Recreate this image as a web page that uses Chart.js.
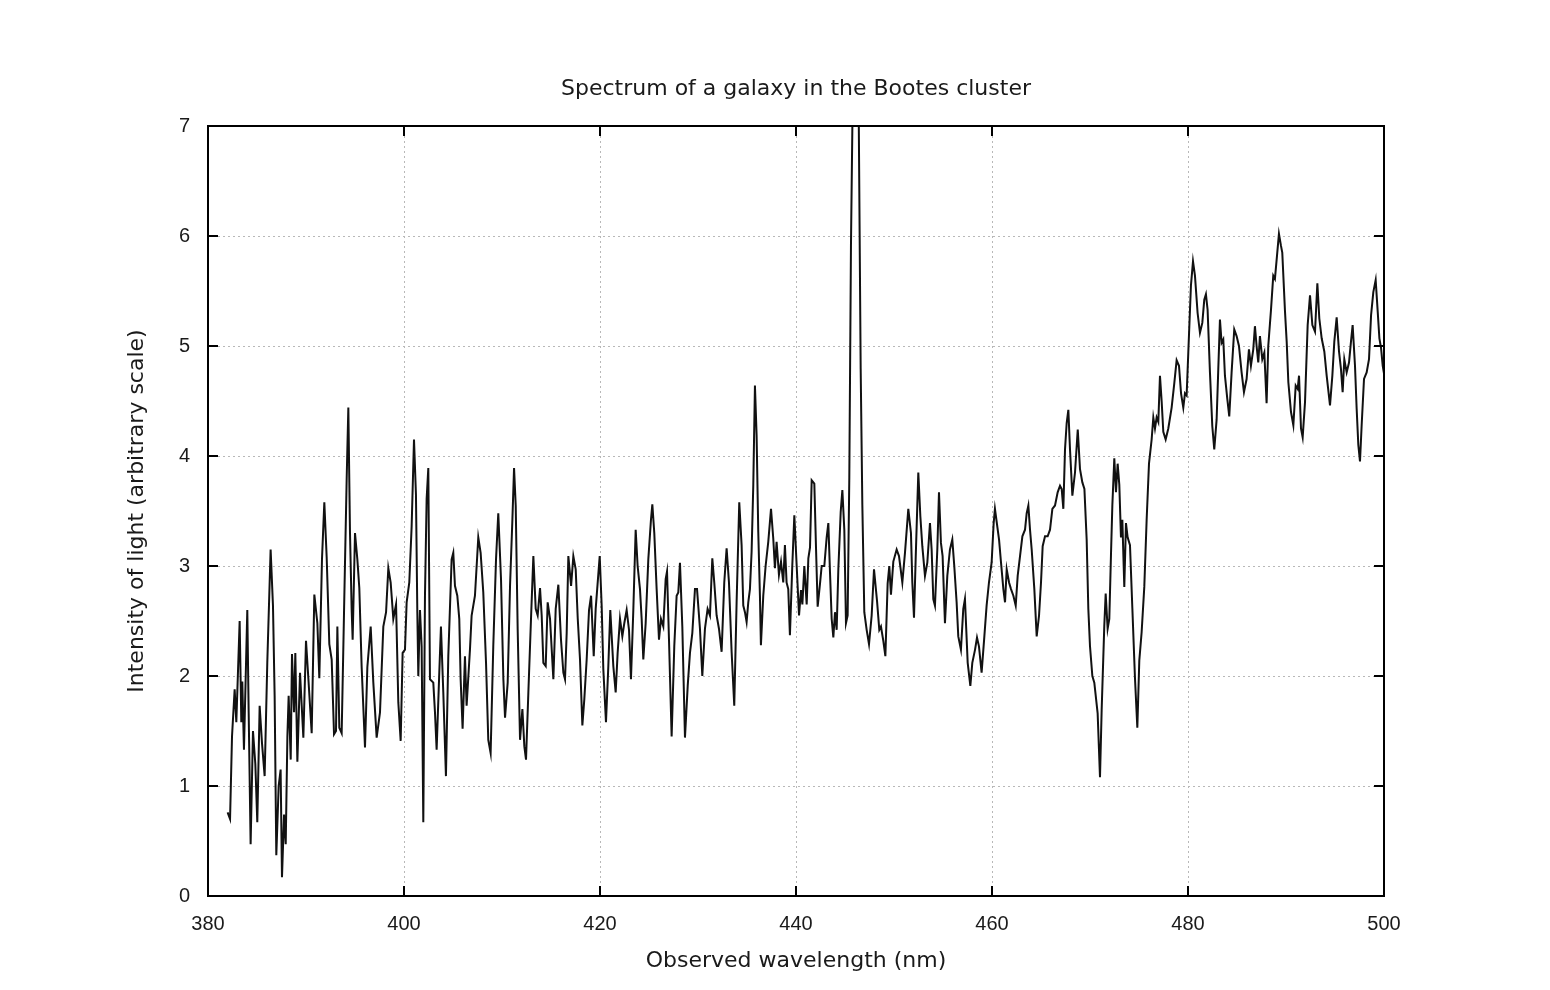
<!DOCTYPE html>
<html>
<head>
<meta charset="utf-8">
<title>Spectrum of a galaxy in the Bootes cluster</title>
<script src="https://cdn.jsdelivr.net/npm/chart.js@4.4.1/dist/chart.umd.min.js"></script>
<style>
  html, body { margin: 0; padding: 0; background: #fff; }
  canvas { display: block; }
</style>
</head>
<body>
<canvas id="spectrum" width="1550" height="990"></canvas>
<script>
// observed wavelength (nm)
const wavelengths = [
  382.0, 382.25, 382.45, 382.72, 382.89, 383.23, 383.4, 383.5, 383.67, 384.01, 384.15, 384.35, 384.59, 384.83, 385.03,
  385.27, 385.51, 385.78, 386.05, 386.39, 386.63, 386.8, 386.97, 387.21, 387.41, 387.55, 387.76, 387.93, 388.1, 388.23,
  388.44, 388.57, 388.78, 388.91, 389.12,
  389.39, 389.73, 390.0, 390.24, 390.58, 390.85, 391.16, 391.36, 391.63, 391.87, 392.11, 392.38, 392.62, 392.86, 393.06,
  393.2, 393.4, 393.64, 393.88, 394.15, 394.32, 394.49, 394.66, 394.76, 395.0, 395.24, 395.44, 395.68, 396.02, 396.26,
  396.6, 396.87, 397.21, 397.55, 397.89, 398.17, 398.4, 398.64, 398.91, 399.19, 399.42, 399.66,
  399.86, 400.1, 400.27, 400.54, 400.78, 401.02, 401.22, 401.36, 401.46, 401.63, 401.8, 401.97, 402.14, 402.31, 402.48,
  402.65, 402.99, 403.16, 403.33, 403.6, 403.77, 404.01, 404.28, 404.52, 404.86, 405.03, 405.2, 405.44, 405.64, 405.78,
  405.98, 406.22, 406.39, 406.73, 406.9, 407.24, 407.58, 407.82, 408.09, 408.37, 408.6, 408.84, 409.11, 409.39, 409.62,
  409.9, 410.14, 410.31, 410.58, 410.82, 411.06, 411.23, 411.4, 411.6, 411.84, 412.08, 412.28, 412.45, 412.69, 412.96,
  413.2, 413.44, 413.64, 413.88, 414.05, 414.22, 414.46, 414.66, 414.9, 415.24, 415.48, 415.75, 416.02, 416.26, 416.43,
  416.6, 416.77, 417.05, 417.28, 417.52, 417.73, 417.96, 418.2, 418.4, 418.64, 418.88, 419.09, 419.36, 419.56,
  419.97, 420.17, 420.34, 420.61, 420.85, 421.05, 421.36, 421.6, 421.8, 422.04, 422.28, 422.48, 422.72, 422.96, 423.16,
  423.4, 423.64, 423.84, 424.08, 424.25, 424.42, 424.66, 424.93, 425.2, 425.34, 425.54, 425.78, 426.02, 426.22, 426.46,
  426.7, 426.84, 427.04, 427.31, 427.58, 427.82, 427.99, 428.16, 428.4, 428.67, 428.95, 429.18, 429.42, 429.69, 429.9,
  430.2, 430.44, 430.71, 430.98, 431.22, 431.46, 431.66, 431.9, 432.14, 432.41, 432.68, 432.92, 433.16, 433.43, 433.7,
  433.94, 434.21, 434.45, 434.62, 434.79, 434.96, 435.13, 435.3, 435.47, 435.64, 435.81, 435.98, 436.15, 436.32, 436.42,
  436.66, 436.9, 437.17, 437.45, 437.68, 437.85, 438.02, 438.26, 438.47, 438.7, 438.87, 439.04, 439.21, 439.38, 439.62,
  439.83,
  440.07, 440.31, 440.51, 440.65, 440.85, 441.09, 441.26, 441.43, 441.6, 441.87, 442.04, 442.21, 442.45, 442.62, 442.89,
  443.13, 443.3, 443.47, 443.64, 443.81, 443.98, 444.15, 444.32, 444.56, 444.73, 444.93, 445.1, 445.27, 445.44, 445.61,
  446.15, 446.6, 446.77, 446.97, 447.21, 447.45, 447.72, 447.96, 448.27, 448.5, 448.67, 448.91, 449.12, 449.35, 449.52,
  449.69, 449.93,
  450.27, 450.51, 450.85, 451.12, 451.46, 451.73, 451.87, 452.04, 452.21, 452.48, 452.69, 452.89, 453.16, 453.4, 453.67,
  453.84, 454.01, 454.18, 454.42, 454.59, 454.79, 454.96, 455.2, 455.44, 455.71, 455.95, 456.15, 456.39, 456.56, 456.83,
  457.07, 457.24, 457.52, 457.79, 457.99, 458.27, 458.47, 458.67, 458.94, 459.22, 459.45, 459.69, 459.96, 460.17, 460.3,
  460.72, 460.92, 461.16, 461.33, 461.5, 461.74, 461.94, 462.18, 462.42, 462.62, 462.86, 463.1, 463.37, 463.54, 463.71,
  463.88, 464.05, 464.32, 464.56, 464.8, 465.0, 465.17, 465.41, 465.68, 465.92, 466.16, 466.43, 466.7, 466.94, 467.11,
  467.28, 467.45, 467.62, 467.79, 467.96, 468.2, 468.47, 468.75, 468.98, 469.22, 469.43, 469.66, 469.83, 470.0, 470.24,
  470.44,
  470.78, 471.02, 471.19, 471.46, 471.6, 471.8, 471.97, 472.14, 472.28, 472.48, 472.65, 472.82, 472.99, 473.16, 473.3,
  473.5, 473.67, 473.84, 474.08, 474.32, 474.59, 474.83, 475.03, 475.27, 475.54, 475.78, 476.02, 476.29, 476.46, 476.63,
  476.8, 476.97, 477.14, 477.31, 477.48, 477.72, 477.99, 478.33, 478.6, 478.84, 479.08, 479.29, 479.52, 479.69,
  479.86, 480.03, 480.3, 480.51, 480.71, 480.98, 481.22, 481.46, 481.66, 481.83, 482.0, 482.24, 482.48, 482.68, 482.92,
  483.09, 483.26, 483.43, 483.6, 483.77, 484.01, 484.21, 484.45, 484.72, 484.96, 485.2, 485.47, 485.71, 485.98, 486.22,
  486.42, 486.66, 486.83, 487.0, 487.17, 487.34, 487.58, 487.79, 488.02, 488.19, 488.47, 488.7, 488.87, 489.08, 489.28,
  489.49, 489.62,
  489.9, 490.07, 490.24, 490.51, 490.75, 490.99, 491.19, 491.33, 491.53, 491.7, 491.94, 492.21, 492.45, 492.69, 492.96,
  493.2, 493.4, 493.64, 493.91, 494.15, 494.49, 494.73, 494.93, 495.17, 495.41, 495.61, 495.78, 495.95, 496.19, 496.43,
  496.63, 496.8, 497.04, 497.21, 497.38, 497.55, 497.72, 497.96, 498.23, 498.47, 498.68, 498.91, 499.15, 499.36, 499.53,
  499.7, 499.87, 500.0
];

// intensity (arbitrary scale), same order as wavelengths
const intensities = [
  0.76, 0.70, 1.45, 1.88, 1.58, 2.5, 1.58, 1.95, 1.33, 2.6, 1.67, 0.47, 1.5, 1.2, 0.67,
  1.73, 1.39, 1.09, 2.12, 3.15, 2.64, 1.82, 0.37, 1.0, 1.15, 0.17, 0.74, 0.47, 1.45, 1.82,
  1.24, 2.2, 1.67, 2.21, 1.22,
  2.03, 1.44, 2.32, 1.98, 1.48, 2.74, 2.48, 1.98, 3.06, 3.58, 3.08, 2.29, 2.15, 1.47, 1.5,
  2.45, 1.53, 1.48, 2.58, 3.79, 4.44, 3.3, 2.6, 2.33, 3.3, 3.06, 2.8, 2.08, 1.35, 2.08,
  2.45, 1.94, 1.44, 1.67, 2.45, 2.58, 2.98, 2.85, 2.52, 2.65, 1.76, 1.41,
  2.21, 2.24, 2.67, 2.85, 3.36, 4.15, 3.65, 2.58, 2.0, 2.6, 2.27, 0.67, 2.73, 3.61, 3.89,
  1.97, 1.94, 1.67, 1.33, 2.03, 2.45, 1.85, 1.09, 2.18, 3.06, 3.12, 2.82, 2.73, 2.52, 1.97,
  1.52, 2.18, 1.73, 2.24, 2.55, 2.73, 3.26, 3.12, 2.76, 2.12, 1.42, 1.3, 2.27, 3.06, 3.48,
  2.88, 1.97, 1.62, 1.94, 2.82, 3.42, 3.89, 3.55, 2.42, 1.42, 1.7, 1.36, 1.24, 1.85, 2.52,
  3.09, 2.61, 2.55, 2.8, 2.55, 2.12, 2.09, 2.67, 2.52, 1.97, 2.61, 2.83, 2.33, 2.03, 1.97,
  2.39, 3.09, 2.82, 3.09, 2.97, 2.52, 2.15, 1.55, 1.79, 2.15, 2.6, 2.73, 2.18, 2.61,
  3.09, 2.64, 2.06, 1.58, 2.09, 2.6, 2.09, 1.85, 2.21, 2.52, 2.36, 2.48, 2.6, 2.42, 1.97,
  2.6, 3.33, 3.0, 2.79, 2.52, 2.15, 2.48, 3.06, 3.42, 3.56, 3.3, 2.79, 2.33, 2.52, 2.45,
  2.88, 2.95, 2.33, 1.45, 2.27, 2.73, 2.76, 3.03, 2.45, 1.44, 1.91, 2.21, 2.39, 2.79, 2.79,
  2.43, 2.0, 2.43, 2.61, 2.55, 3.07, 2.85, 2.55, 2.43, 2.22, 2.85, 3.16, 2.85, 2.22, 1.73,
  2.67, 3.58, 3.19, 2.64, 2.58, 2.49, 2.67, 2.79, 3.13, 3.73, 4.64, 4.19, 3.31, 2.73, 2.28,
  2.73, 3.0, 3.22, 3.52, 3.25, 2.98, 3.22, 2.92, 3.04, 2.85, 3.19, 2.85, 2.79, 2.37, 3.0,
  3.46,
  3.0, 2.55, 2.78, 2.65, 3.0, 2.65, 3.07, 3.17, 3.78, 3.75, 3.17, 2.63, 2.84, 3.0, 3.0,
  3.26, 3.39, 2.94, 2.52, 2.35, 2.58, 2.42, 2.97, 3.49, 3.69, 3.33, 2.48, 2.55, 3.81, 5.93,
  10.0, 4.79, 3.55, 2.58, 2.42, 2.29, 2.55, 2.97, 2.68, 2.42, 2.45, 2.32, 2.18, 2.84, 3.0,
  2.74, 3.04,
  3.15, 3.09, 2.85, 3.12, 3.52, 3.3, 2.85, 2.53, 3.06, 3.85, 3.45, 3.18, 2.91, 3.03, 3.39,
  3.15, 2.7, 2.64, 3.15, 3.67, 3.21, 3.09, 2.48, 2.91, 3.15, 3.24, 3.0, 2.67, 2.36, 2.24,
  2.61, 2.7, 2.12, 1.91, 2.12, 2.24, 2.35, 2.27, 2.03, 2.36, 2.64, 2.85, 3.03, 3.39, 3.52,
  3.24, 3.03, 2.79, 2.67, 2.97, 2.85, 2.79, 2.73, 2.64, 2.91, 3.09, 3.27, 3.33, 3.48, 3.55,
  3.33, 3.15, 2.79, 2.36, 2.55, 2.85, 3.18, 3.27, 3.27, 3.33, 3.52, 3.55, 3.67, 3.73, 3.7,
  3.52, 4.06, 4.3, 4.42, 4.06, 3.64, 3.85, 4.24, 3.88, 3.76, 3.7, 3.24, 2.61, 2.27, 2.0,
  1.94,
  1.66, 1.08, 1.69, 2.46, 2.75, 2.43, 2.52, 3.1, 3.55, 3.98, 3.67, 3.93, 3.74, 3.26, 3.42,
  2.81, 3.39, 3.26, 3.19, 2.62, 1.98, 1.53, 2.14, 2.4, 2.81, 3.42, 3.93, 4.15, 4.35, 4.25,
  4.35, 4.31, 4.73, 4.5, 4.22, 4.15, 4.25, 4.44, 4.66, 4.87, 4.82, 4.57, 4.44, 4.57,
  4.55, 4.94, 5.55, 5.77, 5.64, 5.3, 5.12, 5.21, 5.42, 5.47, 5.33, 4.76, 4.27, 4.06, 4.33,
  4.79, 5.24, 5.03, 5.06, 4.73, 4.52, 4.36, 4.76, 5.15, 5.09, 5.0, 4.76, 4.58, 4.7, 4.97,
  4.82, 4.97, 5.18, 5.0, 4.85, 5.09, 4.88, 4.94, 4.48, 5.0, 5.33, 5.64, 5.61, 5.82, 6.02,
  5.91, 5.85,
  5.31, 5.04, 4.67, 4.4, 4.28, 4.64, 4.61, 4.73, 4.25, 4.17, 4.49, 5.19, 5.46, 5.19, 5.13,
  5.57, 5.25, 5.07, 4.95, 4.73, 4.46, 4.73, 5.04, 5.26, 4.95, 4.79, 4.58, 4.88, 4.76, 4.85,
  5.04, 5.19, 4.82, 4.43, 4.1, 3.95, 4.28, 4.7, 4.76, 4.88, 5.28, 5.49, 5.6, 5.31, 5.07,
  4.98, 4.82, 4.75
];

const xTicks = [380, 400, 420, 440, 460, 480, 500];
const yTicks = [0, 1, 2, 3, 4, 5, 6, 7];

const textColor = '#1a1a1a';
const gridColor = '#b8b8b8';
const titleFont = { family: 'DejaVu Sans', size: 22, weight: 'normal', lineHeight: 1.2 };
const tickFont = { family: 'Liberation Sans', size: 20 };

// gnuplot style frame: border on all four sides, ticks pointing inwards
const frameTicks = {
  id: 'frameTicks',
  afterDatasetsDraw(chart) {
    const ctx = chart.ctx;
    const a = chart.chartArea;
    const x = chart.scales.x;
    const y = chart.scales.y;
    ctx.save();
    ctx.strokeStyle = '#000';
    ctx.lineWidth = 2;
    ctx.beginPath();
    xTicks.forEach(v => {
      const px = x.getPixelForValue(v);
      ctx.moveTo(px, a.bottom); ctx.lineTo(px, a.bottom - 10);
      ctx.moveTo(px, a.top); ctx.lineTo(px, a.top + 10);
    });
    yTicks.forEach(v => {
      const py = y.getPixelForValue(v);
      ctx.moveTo(a.left, py); ctx.lineTo(a.left + 10, py);
      ctx.moveTo(a.right, py); ctx.lineTo(a.right - 10, py);
    });
    ctx.stroke();
    ctx.strokeRect(a.left, a.top, a.right - a.left, a.bottom - a.top);
    ctx.restore();
  }
};

const points = wavelengths.map((w, i) => ({ x: w, y: intensities[i] }));

const config = {
  type: 'line',
  data: {
    datasets: [{
      label: 'Spectrum',
      data: points,
      borderColor: '#111',
      borderWidth: 2,
      pointRadius: 0,
      tension: 0,
      fill: false
    }]
  },
  options: {
    responsive: false,
    animation: false,
    layout: { padding: { left: 0, right: 166, top: 0, bottom: 0 } },
    plugins: {
      legend: { display: false },
      tooltip: { enabled: false },
      title: {
        display: true,
        text: 'Spectrum of a galaxy in the Bootes cluster',
        color: textColor,
        fullSize: false,
        font: titleFont,
        padding: { top: 75.8, bottom: 23.8 }
      }
    },
    scales: {
      x: {
        type: 'linear',
        min: 380,
        max: 500,
        afterBuildTicks: s => { s.ticks = xTicks.map(v => ({ value: v })); },
        afterFit: s => { s.height = 94; },
        ticks: { color: textColor, font: tickFont, padding: 16, maxRotation: 0 },
        grid: { color: gridColor, lineWidth: 1, drawTicks: false },
        border: { display: false, dash: [2, 3] },
        title: {
          display: true,
          text: 'Observed wavelength (nm)',
          color: textColor,
          font: titleFont,
          padding: { top: 0, bottom: 15.8 }
        }
      },
      y: {
        type: 'linear',
        min: 0,
        max: 7,
        afterBuildTicks: s => { s.ticks = yTicks.map(v => ({ value: v })); },
        afterFit: s => { s.width = 208; },
        ticks: { color: textColor, font: tickFont, padding: 18 },
        grid: { color: gridColor, lineWidth: 1, drawTicks: false },
        border: { display: false, dash: [2, 3] },
        title: {
          display: true,
          text: 'Intensity of light (arbitrary scale)',
          color: textColor,
          font: titleFont,
          padding: { top: 123.8, bottom: 0 }
        }
      }
    }
  },
  plugins: [frameTicks]
};

new Chart(document.getElementById('spectrum').getContext('2d'), config);
</script>
</body>
</html>
